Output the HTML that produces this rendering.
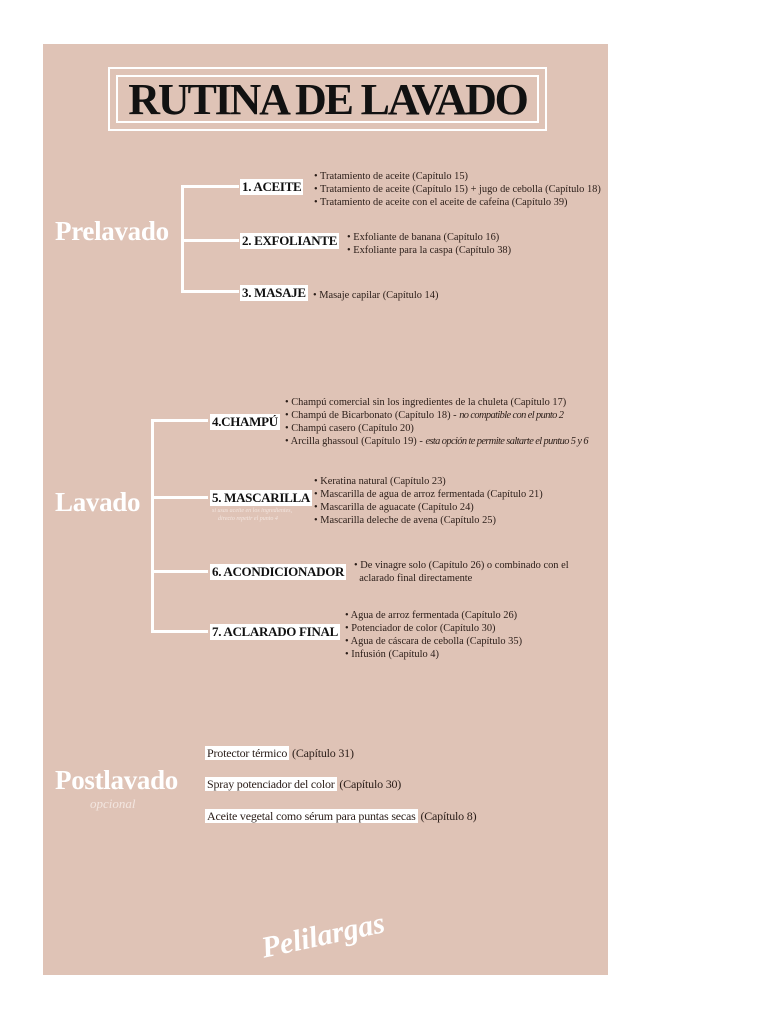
<!DOCTYPE html>
<html><head><meta charset="utf-8"><style>
html,body{margin:0;padding:0;background:#fff;width:768px;height:1024px;overflow:hidden}
#p{position:absolute;left:43px;top:44px;width:565px;height:931px;background:#dfc3b6}
.a{position:absolute;font-family:"Liberation Serif",serif;color:#2a1d18;white-space:nowrap}
.big{color:#fff;font-weight:bold;font-size:27px;letter-spacing:-0.3px}
.lab{background:#fff;color:#111;font-weight:bold;font-size:13px;padding:0 2px;line-height:16px;letter-spacing:-0.3px}
.t{font-size:10.4px;line-height:13px;letter-spacing:0px}
.t i{letter-spacing:-0.6px}
.l{position:absolute;background:#fff}
.pb{font-size:12px;line-height:16px;letter-spacing:-0.2px}
.pb span{background:#fff;padding:0 2px}
</style></head><body>
<div id="p"></div>
<div style="position:absolute;left:108px;top:67px;width:435px;height:60px;border:2px solid #fff"></div>
<div style="position:absolute;left:116px;top:75px;width:419px;height:44px;border:2px solid #fff"></div>
<div class="a" style="left:116px;top:76px;width:423px;text-align:center;font-size:44px;font-weight:bold;color:#111;letter-spacing:-2.2px;line-height:48px">RUTINA DE LAVADO</div>

<div class="a big" style="left:55px;top:216px">Prelavado</div>
<div class="l" style="left:181px;top:185px;width:3px;height:108px"></div>
<div class="l" style="left:181px;top:185px;width:58px;height:3px"></div>
<div class="l" style="left:181px;top:239px;width:58px;height:3px"></div>
<div class="l" style="left:181px;top:290px;width:58px;height:3px"></div>
<div class="a lab" style="left:240px;top:179px">1. ACEITE</div>
<div class="a lab" style="left:240px;top:233px">2. EXFOLIANTE</div>
<div class="a lab" style="left:240px;top:285px">3. MASAJE</div>
<div class="a t" style="left:314px;top:170px">• Tratamiento de aceite (Capítulo 15)<br>• Tratamiento de aceite (Capítulo 15) + jugo de cebolla (Capítulo 18)<br>• Tratamiento de aceite con el aceite de cafeína (Capítulo 39)</div>
<div class="a t" style="left:347px;top:231px">• Exfoliante de banana (Capítulo 16)<br>• Exfoliante para la caspa (Capítulo 38)</div>
<div class="a t" style="left:313px;top:289px">• Masaje capilar (Capítulo 14)</div>

<div class="a big" style="left:55px;top:487px">Lavado</div>
<div class="l" style="left:151px;top:419px;width:3px;height:214px"></div>
<div class="l" style="left:151px;top:419px;width:57px;height:3px"></div>
<div class="l" style="left:151px;top:496px;width:57px;height:3px"></div>
<div class="l" style="left:151px;top:570px;width:57px;height:3px"></div>
<div class="l" style="left:151px;top:630px;width:57px;height:3px"></div>
<div class="a lab" style="left:210px;top:414px">4.CHAMPÚ</div>
<div class="a lab" style="left:210px;top:490px">5. MASCARILLA</div>
<div class="a" style="left:212px;top:507px;font-size:6px;font-style:italic;color:#f3e6e0;line-height:8px;text-align:center;width:72px">si usas aceite en los ingredientes,<br>directo repetir el punto 4</div>
<div class="a lab" style="left:210px;top:564px">6. ACONDICIONADOR</div>
<div class="a lab" style="left:210px;top:624px">7. ACLARADO FINAL</div>
<div class="a t" style="left:285px;top:396px">• Champú comercial sin los ingredientes de la chuleta (Capítulo 17)<br>• Champú de Bicarbonato (Capítulo 18) - <i>no compatible con el punto 2</i><br>• Champú casero (Capítulo 20)<br>• Arcilla ghassoul (Capítulo 19) - <i>esta opción te permite saltarte el puntuo 5 y 6</i></div>
<div class="a t" style="left:314px;top:475px">• Keratina natural (Capítulo 23)<br>• Mascarilla de agua de arroz fermentada (Capítulo 21)<br>• Mascarilla de aguacate (Capítulo 24)<br>• Mascarilla deleche de avena (Capítulo 25)</div>
<div class="a t" style="left:354px;top:559px">• De vinagre solo (Capítulo 26) o combinado con el<br>&nbsp;&nbsp;aclarado final directamente</div>
<div class="a t" style="left:345px;top:609px">• Agua de arroz fermentada (Capítulo 26)<br>• Potenciador de color (Capítulo 30)<br>• Agua de cáscara de cebolla (Capítulo 35)<br>• Infusión (Capítulo 4)</div>

<div class="a big" style="left:55px;top:765px">Postlavado</div>
<div class="a" style="left:90px;top:796px;font-size:13px;font-style:italic;color:#f3e6e0">opcional</div>
<div class="a pb" style="left:205px;top:745px"><span>Protector térmico</span> (Capítulo 31)</div>
<div class="a pb" style="left:205px;top:776px"><span>Spray potenciador del color</span> (Capítulo 30)</div>
<div class="a pb" style="left:205px;top:808px"><span>Aceite vegetal como sérum para puntas secas</span> (Capítulo 8)</div>

<div class="a" style="left:262px;top:932px;font-size:30px;font-style:italic;font-weight:bold;color:#fff;transform:rotate(-12deg);transform-origin:left center">Pelilargas</div>
</body></html>
